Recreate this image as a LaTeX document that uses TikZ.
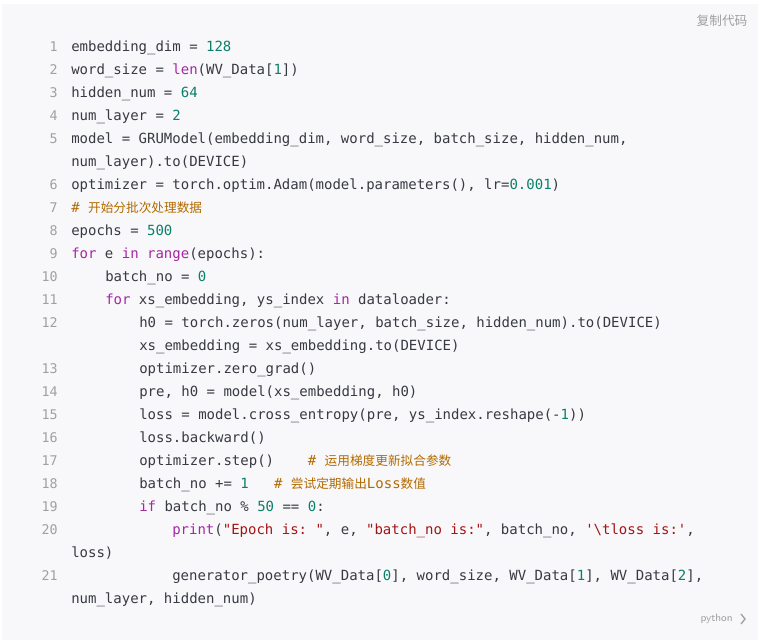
\documentclass[tikz,border=0pt]{standalone}
\usepackage{fontspec}
\setmonofont{DejaVu Sans Mono}
\newfontfamily\cjk{Noto Sans CJK SC}
\definecolor{bgc}{HTML}{F8F8FA}
\definecolor{txt}{HTML}{383A42}
\definecolor{kw}{HTML}{A626A4}
\definecolor{num}{HTML}{0B7F6A}
\definecolor{cm}{HTML}{B36B00}
\definecolor{strc}{HTML}{A31515}
\definecolor{lnc}{HTML}{A0A0A0}
\newcommand{\K}[1]{\textcolor{kw}{#1}}
\newcommand{\N}[1]{\textcolor{num}{#1}}
\newcommand{\Cm}[1]{\textcolor{cm}{#1}}
\newcommand{\Sx}[1]{\textcolor{strc}{#1}}
\newcommand{\zh}[1]{{\cjk\fontsize{9.5pt}{11pt}\selectfont #1}}
\tikzset{
 code/.style={anchor=base west,inner sep=0pt,font=\ttfamily\fontsize{10.5pt}{12pt}\selectfont,text=txt},
 lnum/.style={anchor=base east,inner sep=0pt,font=\ttfamily\fontsize{10pt}{12pt}\selectfont,text=lnc},
 meta/.style={inner sep=0pt,font=\sffamily\fontsize{8pt}{10pt}\selectfont,text=lnc}
}
\begin{document}
\begin{tikzpicture}[x=0.75pt,y=-0.75pt]
\useasboundingbox (0,0) rectangle (762,643);
\fill[white] (0,0) rectangle (762,643);
\fill[bgc] (2,4) rectangle (758,640);
\node[meta] (copy) at (722,21) {\zh{复制代码}};
\node[meta,anchor=east] (py) at (733,619) {python};
\draw[lnc,line width=1pt] (741,614) -- (745,619) -- (741,624);
\def\ln#1#2{\node[lnum] (n#1) at (58,#2) {#1};}
% rows: baseline = center+5
\ln{1}{51}\node[code] (c1) at (71,51) {embedding\_dim = \N{128}};
\ln{2}{74}\node[code] (c2) at (71,74) {word\_size = \K{len}(WV\_Data[\N{1}])};
\ln{3}{97}\node[code] (c3) at (71,97) {hidden\_num = \N{64}};
\ln{4}{120}\node[code] (c4) at (71,120) {num\_layer = \N{2}};
\ln{5}{143}\node[code] (c5) at (71,143) {model = GRUModel(embedding\_dim, word\_size, batch\_size, hidden\_num,};
\node[code] (c5b) at (71,166) {num\_layer).to(DEVICE)};
\ln{6}{189}\node[code] (c6) at (71,189) {optimizer = torch.optim.Adam(model.parameters(), lr=\N{0.001})};
\ln{7}{212}\node[code] (c7) at (71,212) {\Cm{\# \zh{开始分批次处理数据}}};
\ln{8}{235}\node[code] (c8) at (71,235) {epochs = \N{500}};
\ln{9}{258}\node[code] (c9) at (71,258) {\K{for} e \K{in} \K{range}(epochs):};
\ln{10}{281}\node[code] (c10) at (105,281) {batch\_no = \N{0}};
\ln{11}{304}\node[code] (c11) at (105,304) {\K{for} xs\_embedding, ys\_index \K{in} dataloader:};
\ln{12}{327}\node[code] (c12) at (139,327) {h0 = torch.zeros(num\_layer, batch\_size, hidden\_num).to(DEVICE)};
\node[code] (c12b) at (139,350) {xs\_embedding = xs\_embedding.to(DEVICE)};
\ln{13}{373}\node[code] (c13) at (139,373) {optimizer.zero\_grad()};
\ln{14}{396}\node[code] (c14) at (139,396) {pre, h0 = model(xs\_embedding, h0)};
\ln{15}{419}\node[code] (c15) at (139,419) {loss = model.cross\_entropy(pre, ys\_index.reshape(-\N{1}))};
\ln{16}{442}\node[code] (c16) at (139,442) {loss.backward()};
\ln{17}{465}\node[code] (c17) at (139,465) {optimizer.step()\ \ \ \ \Cm{\# \zh{运用梯度更新拟合参数}}};
\ln{18}{488}\node[code] (c18) at (139,488) {batch\_no += \N{1}\ \ \ \Cm{\# \zh{尝试定期输出}Loss\zh{数值}}};
\ln{19}{511}\node[code] (c19) at (139,511) {\K{if} batch\_no \% \N{50} == \N{0}:};
\ln{20}{534}\node[code] (c20) at (172,534) {\K{print}(\Sx{"Epoch is: "}, e, \Sx{"batch\_no is:"}, batch\_no, \Sx{'\textbackslash tloss is:'},};
\node[code] (c20b) at (71,557) {loss)};
\ln{21}{580}\node[code] (c21) at (172,580) {generator\_poetry(WV\_Data[\N{0}], word\_size, WV\_Data[\N{1}], WV\_Data[\N{2}],};
\node[code] (c21b) at (71,603) {num\_layer, hidden\_num)};
\end{tikzpicture}
\end{document}
